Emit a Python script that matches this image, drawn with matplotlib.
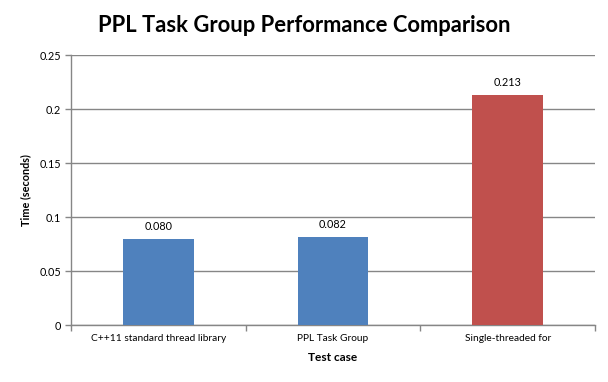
import matplotlib
matplotlib.use("Agg")
import matplotlib.pyplot as plt
from matplotlib.ticker import FixedLocator, NullFormatter

categories = ["C++11 standard thread library", "PPL Task Group", "Single-threaded for"]
times = [0.080, 0.082, 0.213]
bar_colors = ["#4F81BD", "#4F81BD", "#C0504D"]
yticks = [0, 0.05, 0.1, 0.15, 0.2, 0.25]
ytick_labels = ["0", "0.05", "0.1", "0.15", "0.2", "0.25"]

plt.rcParams['font.family'] = ['Lato', 'DejaVu Sans']

fig = plt.figure(figsize=(6.08, 3.82), dpi=100)
ax = fig.add_axes([71/608, 1 - 325.3/382, 524/608, 270/382])

x = list(range(len(categories)))
bars = ax.bar(x, times, width=0.405, color=bar_colors, zorder=3)
for xi, v in zip(x, times):
    ax.annotate(f"{v:.3f}", (xi, v), xytext=(0, 5), textcoords="offset points",
                ha="center", va="bottom", fontsize=7.8, color="#000000")

ax.set_xlim(-0.5, len(categories) - 0.5)
ax.set_ylim(0, 0.25)
ax.set_yticks(yticks)
ax.set_yticklabels(ytick_labels, fontsize=7.8)
ax.yaxis.grid(True, color="#868686", linewidth=1.0, zorder=0)

ax.set_xticks(x)
ax.set_xticklabels(categories, fontsize=7.3)
ax.tick_params(axis="x", which="major", length=0, pad=6)
ax.xaxis.set_minor_locator(FixedLocator([i - 0.5 for i in range(len(categories) + 1)]))
ax.xaxis.set_minor_formatter(NullFormatter())
ax.tick_params(axis="x", which="minor", length=4, color="#868686", width=1)
ax.tick_params(axis="y", length=4, color="#868686", width=1, pad=3)

for s in ["top", "right"]:
    ax.spines[s].set_visible(False)
for s in ["left", "bottom"]:
    ax.spines[s].set_color("#868686")
    ax.spines[s].set_linewidth(1.0)

ax.set_ylabel("Time (seconds)", fontsize=7.8, fontweight="bold", labelpad=6)
ax.set_xlabel("Test case", fontsize=8.6, fontweight="bold", labelpad=7)
fig.text(304/608, 1 - 32/382, "PPL Task Group Performance Comparison", ha="center", va="baseline",
         fontsize=15.8, fontweight="bold")

fig.savefig("out.png", dpi=100)
